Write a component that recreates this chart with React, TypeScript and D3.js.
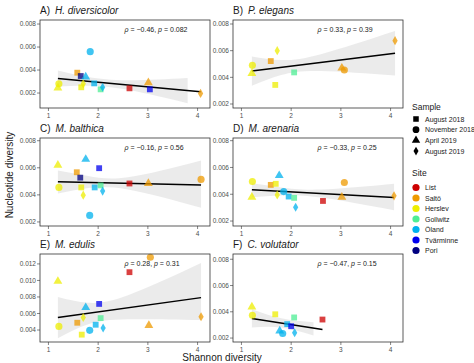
import * as d3 from "d3";

// Sites and sampling events
const SITES = ["List", "Saltö", "Herslev", "Gollwitz", "Öland", "Tvärminne", "Pori"];
const SITE_COLORS = ["#CD0000", "#EE9A00", "#EEEE00", "#4EEE94", "#00B2EE", "#0000EE", "#000080"];
const SAMPLES = ["August 2018", "November 2018", "April 2019", "August 2019"];

// panels
const LETTERS = ["A", "B", "C", "D", "E", "F"];
const SPECIES = ["H. diversicolor", "P. elegans", "M. balthica", "M. arenaria", "M. edulis", "C. volutator"];
const RHO = ["−0.46", "0.33", "−0.16", "−0.33", "0.28", "−0.47"];
const P_VALUES = ["0.082", "0.39", "0.56", "0.25", "0.31", "0.15"];

// [site, sample, shannon diversity, nucleotide diversity]
const POINTS_A = [
  [4, 1, 1.84, 0.0056], [1, 0, 1.58, 0.00377], [6, 0, 1.65, 0.00348], [4, 2, 1.75, 0.0034],
  [2, 1, 1.21, 0.0028], [2, 2, 1.19, 0.00245], [2, 0, 1.66, 0.0025], [2, 3, 1.7, 0.0028],
  [4, 0, 1.92, 0.00284], [3, 0, 2.05, 0.00232], [4, 3, 2.09, 0.0025], [0, 0, 2.63, 0.00241],
  [1, 2, 3.01, 0.0029], [5, 0, 3.04, 0.00232], [1, 3, 4.06, 0.00197],
];
const POINTS_B = [
  [1, 3, 4.09, 0.00675], [2, 3, 1.72, 0.006], [1, 0, 1.59, 0.00522], [2, 1, 1.22, 0.0049],
  [2, 2, 1.21, 0.0043], [3, 0, 2.06, 0.00437], [2, 0, 1.68, 0.00343], [1, 2, 3.02, 0.0047],
  [1, 1, 3.07, 0.00455],
];
const POINTS_C = [
  [2, 2, 1.19, 0.0062], [4, 2, 1.75, 0.00663], [1, 0, 1.57, 0.00567], [5, 0, 2.02, 0.00597],
  [6, 0, 1.64, 0.00527], [2, 1, 1.21, 0.00455], [2, 0, 1.66, 0.00455], [4, 0, 1.93, 0.00455],
  [3, 0, 2.05, 0.0047], [4, 3, 2.09, 0.00428], [2, 3, 1.7, 0.00398], [4, 1, 1.83, 0.00248],
  [0, 0, 2.63, 0.00484], [1, 2, 3.01, 0.00484], [1, 1, 4.07, 0.00514],
];
const POINTS_D = [
  [2, 1, 1.22, 0.00495], [2, 2, 1.21, 0.00378], [4, 2, 1.76, 0.0054], [1, 0, 1.59, 0.0047],
  [2, 0, 1.69, 0.00478], [4, 1, 1.85, 0.0042], [2, 3, 1.72, 0.00395], [4, 0, 1.95, 0.00383],
  [3, 0, 2.06, 0.00373], [4, 3, 2.09, 0.00303], [0, 0, 2.64, 0.0035], [1, 1, 3.07, 0.00488],
  [1, 2, 3.02, 0.00378], [1, 3, 4.07, 0.00388],
];
const POINTS_E = [
  [1, 1, 3.05, 0.0128], [0, 0, 2.63, 0.011], [2, 2, 1.19, 0.0099], [5, 0, 2.02, 0.00716],
  [4, 2, 1.75, 0.00672], [2, 3, 1.7, 0.00552], [3, 0, 2.05, 0.00544], [1, 0, 1.58, 0.00488],
  [4, 0, 1.95, 0.00464], [4, 1, 1.83, 0.00396], [4, 3, 2.1, 0.00424], [2, 1, 1.21, 0.00444],
  [2, 0, 1.67, 0.00344], [1, 2, 3.02, 0.00456], [1, 3, 4.07, 0.0056],
];
const POINTS_F = [
  [2, 2, 1.21, 0.00437], [2, 1, 1.22, 0.00374], [2, 0, 1.68, 0.00381], [3, 0, 2.06, 0.00357],
  [0, 0, 2.63, 0.00341], [4, 0, 1.92, 0.00306], [5, 0, 2.0, 0.0029], [4, 2, 1.77, 0.00255],
  [4, 1, 1.83, 0.00235], [4, 3, 2.07, 0.0024],
];

// fitted lines [x0, y0, x1, y1] and confidence bands [x, lower, upper]
const LINES = [
  [1.19, 0.00327, 4.06, 0.00211],
  [1.21, 0.00447, 4.09, 0.0058],
  [1.19, 0.00497, 4.07, 0.00472],
  [1.21, 0.00433, 4.07, 0.00375],
  [1.19, 0.00552, 4.07, 0.00792],
  [1.21, 0.00349, 2.63, 0.00265],
];
const BAND_A = [[1.19, 0.00257, 0.00397], [1.8, 0.00264, 0.0034], [2.6, 0.00228, 0.00312], [3.8, 0.00111, 0.00331]];
const BAND_B = [[1.21, 0.00337, 0.00557], [1.8, 0.00418, 0.0053], [2.6, 0.00448, 0.00574], [4.09, 0.00413, 0.00747]];
const BAND_C = [[1.19, 0.0041, 0.0058], [1.8, 0.0045, 0.0054], [2.6, 0.0044, 0.0053], [4.07, 0.00305, 0.00653]];
const BAND_D = [[1.21, 0.00378, 0.00482], [1.8, 0.00391, 0.00451], [2.6, 0.00375, 0.00435], [4.07, 0.0028, 0.00478]];
const BAND_E = [[1.19, 0.003, 0.008], [1.8, 0.0047, 0.0073], [2.6, 0.0053, 0.0082], [4.07, 0.0052, 0.0121]];
const BAND_F = [[1.21, 0.0028, 0.0042], [1.8, 0.0028, 0.0035], [2.45, 0.0022, 0.0032]];

const X_TICKS = [1, 2, 3, 4];
const Y_TICKS_STD = [0.002, 0.004, 0.006, 0.008];
const Y_TICKS_E = [0.004, 0.006, 0.008, 0.01, 0.012];
const Y_DOMAINS = [
  [0.0007, 0.00835],
  [0.0017, 0.0083],
  [0.0017, 0.0082],
  [0.00163, 0.0082],
  [0.00255, 0.0132],
  [0.0017, 0.0084],
];

const ALL_POINTS = [POINTS_A, POINTS_B, POINTS_C, POINTS_D, POINTS_E, POINTS_F];
const ALL_BANDS = [BAND_A, BAND_B, BAND_C, BAND_D, BAND_E, BAND_F];

const W = 474;
const H = 363;
const FONT = "'Liberation Sans', Arial, Helvetica, sans-serif";
const COL_X = [40, 233];
const ROW_Y = [20, 138, 254];
const PW = 170;
const PH = 88;

const SHAPES = [d3.symbolSquare, d3.symbolCircle, d3.symbolTriangle, d3.symbolDiamond];
const SIZES = [34, 40, 34, 24];

function symbolPath(sample: number, scale = 1) {
  return d3.symbol().type(SHAPES[sample]).size(SIZES[sample] * scale)() as string;
}

function Panel({ i }: { i: number }) {
  const left = COL_X[i % 2];
  const top = ROW_Y[Math.floor(i / 2)];
  const x = d3.scaleLinear().domain([0.83, 4.25]).range([left, left + PW]);
  const y = d3.scaleLinear().domain(Y_DOMAINS[i]).range([top + PH, top]);
  const yTicks = i === 4 ? Y_TICKS_E : Y_TICKS_STD;
  const band = ALL_BANDS[i];
  const area = d3
    .area<number[]>()
    .x((d) => x(d[0]))
    .y0((d) => y(d[1]))
    .y1((d) => y(d[2]))
    .curve(d3.curveNatural);
  const [x0, y0, x1, y1] = LINES[i];
  const fmt = d3.format(".3f");

  return (
    <g>
      <text x={left} y={top - 6} fontSize={10} fill="#1a1a1a" fontFamily={FONT}>
        {LETTERS[i]})
        <tspan dx={5} fontStyle="italic">{SPECIES[i]}</tspan>
      </text>
      <path d={area(band) as string} fill="#999" fillOpacity={0.2} />
      <line x1={x(x0)} y1={y(y0)} x2={x(x1)} y2={y(y1)} stroke="#000" strokeWidth={1.5} />
      {ALL_POINTS[i].map((p, k) => (
        <path
          key={k}
          d={symbolPath(p[1])}
          transform={`translate(${x(p[2])},${y(p[3])})`}
          fill={SITE_COLORS[p[0]]}
          fillOpacity={0.75}
        />
      ))}
      <text x={x(2.53)} y={top + 12} fontSize={7} fill="#1a1a1a" fontFamily={FONT}>
        <tspan fontStyle="italic">ρ</tspan> = {RHO[i]}, <tspan fontStyle="italic">p</tspan> = {P_VALUES[i]}
      </text>
      <rect x={left} y={top} width={PW} height={PH} fill="none" stroke="#333" strokeWidth={0.8} />
      {X_TICKS.map((t) => (
        <g key={t}>
          <line x1={x(t)} x2={x(t)} y1={top + PH} y2={top + PH + 3} stroke="#333" strokeWidth={0.6} />
          <text x={x(t)} y={top + PH + 10} fontSize={6.5} textAnchor="middle" fill="#4d4d4d" fontFamily={FONT}>
            {t}
          </text>
        </g>
      ))}
      {yTicks.map((t) => (
        <g key={t}>
          <line x1={left - 3} x2={left} y1={y(t)} y2={y(t)} stroke="#333" strokeWidth={0.6} />
          <text x={left - 4} y={y(t) + 2.3} fontSize={6.5} textAnchor="end" fill="#4d4d4d" fontFamily={FONT}>
            {fmt(t)}
          </text>
        </g>
      ))}
    </g>
  );
}

function Legend() {
  const lx = 412;
  return (
    <g fontFamily={FONT}>
      <text x={lx} y={110} fontSize={8.5} fill="#1a1a1a">Sample</text>
      {SAMPLES.map((s, k) => (
        <g key={s} transform={`translate(0,${119 + k * 10.7})`}>
          <path d={symbolPath(k, 0.9)} transform={`translate(${lx + 4},0)`} fill="#000" />
          <text x={lx + 13} y={2.5} fontSize={7} fill="#1a1a1a">{s}</text>
        </g>
      ))}
      <text x={lx} y={176} fontSize={8.5} fill="#1a1a1a">Site</text>
      {SITES.map((s, k) => (
        <g key={s} transform={`translate(0,${187.5 + k * 10.5})`}>
          <circle cx={lx + 4} cy={0} r={3.6} fill={SITE_COLORS[k]} />
          <text x={lx + 13} y={2.5} fontSize={7} fill="#1a1a1a">{s}</text>
        </g>
      ))}
    </g>
  );
}

export default function App() {
  return (
    <svg width={W} height={H} style={{ position: "absolute", left: 0, top: 0, background: "#fff" }}>
      {LETTERS.map((_, i) => (
        <Panel key={i} i={i} />
      ))}
      <text
        transform="translate(13,175) rotate(-90)"
        textAnchor="middle"
        fontSize={10}
        fill="#1a1a1a"
        fontFamily={FONT}
      >
        Nucleotide diversity
      </text>
      <text x={222} y={361} textAnchor="middle" fontSize={10} fill="#1a1a1a" fontFamily={FONT}>
        Shannon diversity
      </text>
      <Legend />
    </svg>
  );
}
